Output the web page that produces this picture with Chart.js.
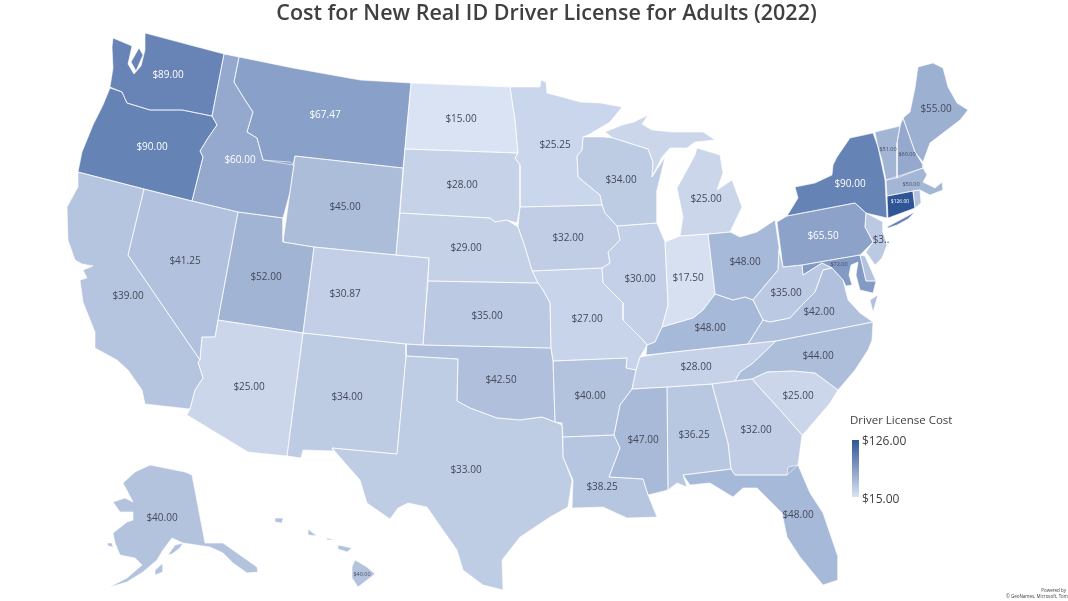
<!DOCTYPE html>
<html>
<head>
<meta charset="utf-8">
<title>Cost for New Real ID Driver License for Adults (2022)</title>
<script src="https://cdn.jsdelivr.net/npm/chart.js@4"></script>
<style>
  html, body { margin: 0; padding: 0; background: #fff; overflow: hidden; }
  #wrap { position: relative; width: 1068px; height: 601px; overflow: hidden; }
  .txt { position: absolute; font-family: "Open Sans", sans-serif; color: #404040; white-space: nowrap; }
  #scale-bar { position: absolute; left: 852px; top: 440px; width: 7px; height: 57px;
    background: linear-gradient(to bottom, #2F5597, #DAE3F3); }
</style>
</head>
<body>
<div id="wrap">
  <canvas id="map" width="1068" height="601"></canvas>
  <div class="txt" style="left:850px;top:412px;font-size:11.5px">Driver License Cost</div>
  <div id="scale-bar"></div>
  <div class="txt" id="scale-max" style="left:862px;top:432px;font-size:12px"></div>
  <div class="txt" id="scale-min" style="left:862px;top:490px;font-size:12px"></div>
  <div class="txt" style="right:2px;top:587px;font-size:4.5px">Powered by</div>
  <div class="txt" style="right:0;top:593px;font-size:4.5px">© GeoNames, Microsoft, Tom</div>
</div>
<script>
const stateNames = ['WA','OR','CA','NV','ID','MT','WY','UT','AZ','CO','NM','ND','SD','NE','KS','OK','TX','MN','IA','MO','AR','LA','WI','IL','MS','MI','IN','KY','TN','AL','OH','GA','FL','SC','NC','VA','WV','PA','NY','ME','VT','NH','MA','CT','RI','NJ','DE','MD','AK','HI'];
const stateCosts = [89,90,39,41.25,60,67.47,45,52,25,30.87,34,15,28,29,35,42.5,33,25.25,32,27,40,38.25,34,30,47,25,17.5,48,28,36.25,48,32,48,25,44,42,35,65.5,90,55,51,60,50,126,40,35,40,72,40,40];
const costMin = 15;
const costMax = 126;

// Contornos (en unidades del mapa)
const outlines = {
  WA: [
    [[113,38],[132,46],[128,64],[134,74],[141,66],[145,50],[145,33],[190,45],[224,54],[212,116],[182,110],[150,110],[127,103],[122,92],[110,87],[113,68],[112,47]],
    [[131,62],[139,48],[143,55],[136,71]]
  ],
  OR: [[[110,88],[122,92],[127,103],[150,110],[182,110],[212,116],[217,125],[208,138],[200,151],[203,157],[192,201],[144,189],[78,172],[82,152],[93,125],[103,105]]],
  CA: [[[78,172],[144,189],[128,255],[200,360],[198,362],[203,378],[195,390],[190,409],[145,404],[142,390],[128,370],[117,360],[95,348],[95,332],[83,302],[80,280],[87,278],[83,270],[93,266],[82,264],[75,260],[68,240],[67,207],[78,187]]],
  NV: [[[144,189],[192,201],[238,212],[218,320],[215,337],[202,337],[200,360],[128,255]]],
  ID: [[[224,54],[239,57],[234,82],[245,100],[253,112],[247,132],[257,138],[263,160],[290,162],[294,165],[290,192],[283,218],[238,212],[192,201],[203,157],[200,151],[208,138],[217,125],[212,116]]],
  MT: [[[239,57],[293,68],[360,80],[411,83],[403,168],[295,156],[293,165],[263,160],[257,138],[247,132],[253,112],[245,100],[234,82]]],
  WY: [[[295,156],[403,168],[396,255],[314,247],[283,242]]],
  UT: [[[238,212],[283,218],[283,242],[314,247],[303,333],[218,320]]],
  AZ: [[[218,320],[303,333],[287,456],[248,452],[187,415],[190,409],[195,390],[203,378],[198,362],[200,360],[202,337],[215,337]]],
  CO: [[[314,247],[396,255],[429,258],[423,345],[406,344],[303,333]]],
  NM: [[[303,333],[406,344],[406,356],[397,454],[332,448],[333,451],[303,450],[301,458],[287,456]]],
  ND: [[[411,83],[510,87],[515,120],[518,153],[405,149]]],
  SD: [[[405,149],[518,153],[515,158],[520,165],[520,207],[517,223],[507,220],[495,222],[490,218],[400,213]]],
  NE: [[[400,213],[490,218],[495,222],[507,220],[518,227],[525,247],[532,270],[538,283],[428,281],[429,258],[396,255]]],
  KS: [[[428,281],[538,283],[543,290],[550,303],[551,348],[423,345]]],
  OK: [[[406,344],[423,345],[551,348],[553,361],[555,422],[542,417],[520,420],[497,418],[470,408],[457,401],[458,359],[406,356]]],
  TX: [[[406,356],[458,359],[457,401],[470,408],[497,418],[520,420],[542,417],[555,422],[562,425],[563,457],[572,480],[568,507],[550,517],[520,537],[502,560],[503,590],[483,585],[463,570],[457,550],[438,523],[427,507],[408,503],[398,508],[390,519],[367,503],[360,480],[332,448],[397,454]]],
  MN: [[[510,87],[540,87],[541,80],[546,82],[547,93],[562,97],[580,102],[600,103],[622,107],[610,122],[588,135],[583,137],[582,150],[577,156],[578,177],[600,195],[602,205],[520,207],[520,165],[515,158],[518,153],[515,120]]],
  IA: [[[520,207],[602,205],[605,213],[617,226],[620,240],[608,252],[610,263],[602,268],[532,271],[525,247],[518,227]]],
  MO: [[[532,271],[602,268],[603,283],[623,303],[623,320],[643,340],[647,345],[640,357],[636,370],[626,368],[627,358],[553,361],[551,348],[550,303],[543,290],[538,283]]],
  AR: [[[553,361],[627,358],[626,368],[636,370],[632,389],[620,405],[614,435],[563,437],[562,423],[555,422]]],
  LA: [[[563,437],[614,435],[620,448],[609,477],[643,479],[648,495],[657,517],[627,518],[603,507],[572,508],[573,480],[563,457]]],
  WI: [[[583,137],[603,137],[613,138],[648,149],[653,162],[652,177],[665,157],[657,190],[657,223],[617,226],[605,213],[602,205],[600,195],[578,177],[577,156],[582,150]]],
  IL: [[[617,226],[657,223],[665,242],[668,305],[662,327],[655,342],[647,345],[643,340],[623,320],[623,303],[603,283],[602,268],[610,263],[608,252],[620,240]]],
  MS: [[[632,389],[667,387],[668,490],[648,495],[643,479],[609,477],[620,448],[614,435],[620,405]]],
  MI: [
    [[613,138],[605,132],[622,125],[634,122],[648,115],[642,124],[652,130],[672,132],[703,132],[715,140],[695,142],[687,148],[670,148],[662,157],[652,177],[653,162],[648,149]],
    [[697,148],[720,155],[723,173],[717,190],[732,180],[742,207],[730,232],[708,234],[680,236],[683,217],[677,188],[688,168],[695,155]]
  ],
  IN: [[[665,242],[680,236],[708,234],[715,294],[703,310],[693,318],[662,327],[668,305]]],
  KY: [[[715,294],[733,300],[745,297],[753,300],[763,320],[748,344],[665,353],[646,355],[647,345],[655,342],[662,327],[693,318],[703,310]]],
  TN: [[[640,357],[665,353],[748,344],[776,341],[753,363],[740,372],[735,381],[712,384],[667,387],[632,389],[636,370]]],
  AL: [[[667,387],[712,384],[728,443],[731,469],[683,475],[687,487],[677,483],[668,490]]],
  OH: [[[708,234],[730,232],[740,237],[757,232],[775,220],[779,247],[778,270],[767,283],[753,300],[745,297],[733,300],[715,294]]],
  GA: [[[712,384],[735,381],[752,379],[760,388],[780,410],[802,435],[798,465],[787,475],[735,475],[731,469],[728,443]]],
  FL: [[[683,475],[731,469],[735,475],[787,475],[788,467],[798,465],[810,493],[823,513],[838,557],[838,580],[823,585],[800,557],[787,537],[782,513],[757,488],[743,488],[733,497],[710,483],[690,485]]],
  SC: [[[752,379],[767,372],[793,371],[815,373],[838,390],[830,403],[807,430],[802,435],[780,410],[760,388]]],
  NC: [[[776,341],[873,322],[872,340],[868,350],[855,370],[838,390],[815,373],[793,371],[767,372],[752,379],[735,381],[740,372],[753,363]]],
  VA: [
    [[748,344],[763,320],[770,322],[790,318],[802,305],[815,292],[823,270],[832,268],[843,280],[848,300],[860,313],[873,322],[776,341]],
    [[870,300],[878,295],[873,312]]
  ],
  WV: [[[779,250],[783,267],[802,265],[803,275],[822,263],[832,268],[823,270],[815,292],[802,305],[790,318],[770,322],[763,320],[753,300],[767,283],[778,270]]],
  PA: [[[777,222],[787,216],[855,203],[866,213],[865,227],[873,242],[860,255],[802,265],[783,267]]],
  NY: [
    [[787,216],[855,203],[866,213],[887,218],[885,180],[878,147],[873,133],[850,138],[837,157],[833,165],[832,175],[815,183],[795,187],[798,198]],
    [[887,227],[915,212],[908,219],[897,225],[888,228]]
  ],
  ME: [[[903,118],[910,112],[915,88],[918,67],[933,63],[943,68],[948,87],[957,103],[968,110],[960,120],[943,133],[930,143],[923,162],[915,152]]],
  VT: [[[875,132],[900,126],[897,143],[897,178],[886,180],[882,160],[878,147]]],
  NH: [[[900,126],[903,118],[915,152],[923,165],[923,168],[897,178],[897,143]]],
  MA: [[[886,180],[923,168],[927,175],[923,182],[935,188],[942,182],[943,190],[930,195],[920,190],[913,191],[887,196]]],
  CT: [[[887,196],[913,191],[915,208],[888,218]]],
  RI: [[[913,191],[920,190],[921,203],[915,208]]],
  NJ: [[[866,213],[883,222],[883,232],[887,245],[882,258],[875,265],[866,252],[873,242],[865,227]]],
  DE: [[[860,255],[865,256],[876,281],[866,281]]],
  MD: [[[802,265],[860,255],[866,281],[876,281],[873,293],[860,290],[856,275],[858,262],[851,265],[849,275],[852,285],[846,286],[843,280],[832,268],[822,263],[803,275]]],
  AK: [
    [[150,465],[185,472],[192,475],[205,543],[223,543],[240,555],[257,567],[258,572],[247,573],[233,563],[223,553],[210,547],[183,543],[172,538],[163,550],[157,560],[143,572],[127,582],[110,587],[100,592],[127,578],[142,565],[135,558],[120,555],[115,543],[113,533],[127,522],[133,520],[133,512],[120,512],[113,502],[125,498],[133,502],[123,483],[135,472]],
    [[168,555],[175,545],[183,543],[180,548],[172,554]],
    [[155,570],[163,563],[163,572],[155,575]],
    [[107,543],[112,543],[113,547],[108,546]]
  ],
  HI: [
    [[355,560],[367,567],[375,574],[358,587],[352,578],[352,567]],
    [[338,545],[352,548],[347,552],[338,549]],
    [[308,529],[317,536],[308,535]],
    [[275,518],[283,518],[282,523],[275,522]],
    [[327,538],[335,540],[327,540]]
  ]
};

// Donde va cada etiqueta
const labelSpots = {
  WA:[168,75], OR:[152,147], CA:[128,296], NV:[185,261], ID:[240,160], MT:[325,115], WY:[345,207], UT:[266,277],
  AZ:[249,387], CO:[345,294], NM:[347,397], ND:[461,119], SD:[462,185], NE:[466,248], KS:[487,316], OK:[501,380],
  TX:[466,470], MN:[555,145], IA:[568,238], MO:[587,319], AR:[590,396], LA:[602,487], WI:[621,180], IL:[640,279],
  MS:[643,440], MI:[706,199], IN:[688,278], KY:[710,328], TN:[696,367], AL:[694,435], OH:[745,262], GA:[756,430],
  FL:[798,515], SC:[798,396], NC:[818,356], VA:[819,312], WV:[786,293], PA:[823,236], NY:[850,184], ME:[936,109],
  VT:[888,149], NH:[907,154], MA:[911,184], CT:[900,202], NJ:[881,240], MD:[839,264], AK:[162,518], HI:[362,574]
};
const tinyLabels = { VT: 5.5, NH: 5.5, MA: 5.5, MD: 5.5, HI: 5.5, CT: 5 };
const whiteLabels = ['WA','OR','ID','MT','NY','PA','CT'];
const cutLabels = { NJ: '$3..' };

const money = v => '$' + v.toFixed(2);

function costColor(v) {
    const t = (v - costMin) / (costMax - costMin);
    const r = Math.round(218 + (47 - 218) * t);
    const g = Math.round(227 + (85 - 227) * t);
    const b = Math.round(243 + (151 - 243) * t);
    return `rgb(${r}, ${g}, ${b})`;
}

document.getElementById('scale-max').textContent = money(costMax);
document.getElementById('scale-min').textContent = money(costMin);

const datasets = [];
stateNames.forEach((name, i) => {
    outlines[name].forEach(ring => {
        const closed = ring.concat([ring[0]]);
        datasets.push({
            label: name,
            data: closed.map(p => ({ x: p[0], y: p[1] })),
            showLine: true,
            fill: false,
            tension: 0,
            pointRadius: 0,
            borderWidth: 1,
            borderColor: 'rgba(255, 255, 255, 0.6)',
            backgroundColor: costColor(stateCosts[i]),
        });
    });
});

// Rellena cada contorno usando los puntos ya escalados por Chart.js
const statePolygons = {
    id: 'statePolygons',
    beforeDatasetsDraw(chart) {
        const ctx = chart.ctx;
        chart.data.datasets.forEach((ds, i) => {
            const pts = chart.getDatasetMeta(i).data;
            ctx.beginPath();
            pts.forEach((p, j) => (j ? ctx.lineTo(p.x, p.y) : ctx.moveTo(p.x, p.y)));
            ctx.closePath();
            ctx.fillStyle = ds.backgroundColor;
            ctx.fill();
        });
    },
    afterDatasetsDraw(chart) {
        const ctx = chart.ctx;
        ctx.textAlign = 'center';
        ctx.textBaseline = 'middle';
        stateNames.forEach((name, i) => {
            const spot = labelSpots[name];
            if (!spot) return;
            ctx.font = (tinyLabels[name] || 10) + 'px "Open Sans", sans-serif';
            ctx.fillStyle = whiteLabels.includes(name) ? '#ffffff' : '#44495a';
            const text = cutLabels[name] || money(stateCosts[i]);
            ctx.fillText(text, chart.scales.x.getPixelForValue(spot[0]), chart.scales.y.getPixelForValue(spot[1]));
        });
    },
};

new Chart(document.getElementById('map').getContext('2d'), {
    type: 'scatter',
    data: { datasets },
    plugins: [statePolygons],
    options: {
        responsive: false,
        animation: false,
        events: [],
        // el titulo va centrado sobre esta area, algo a la derecha como en el original
        layout: { padding: { left: 25 } },
        scales: {
            x: { display: false, min: 25, max: 1068 },
            y: { display: false, min: 32, max: 601, reverse: true },
        },
        plugins: {
            legend: { display: false },
            tooltip: { enabled: false },
            title: {
                display: true,
                fullSize: false,
                text: 'Cost for New Real ID Driver License for Adults (2022)',
                color: '#404040',
                font: { family: '"Open Sans", sans-serif', size: 21.5, weight: '600', lineHeight: 1.2 },
                padding: { top: 1, bottom: 5.2 },
            },
        },
    },
});
</script>
</body>
</html>
